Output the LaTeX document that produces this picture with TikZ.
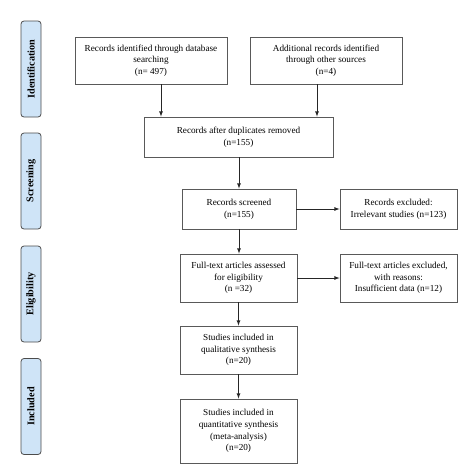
\documentclass[tikz,border=0pt]{standalone}
\usepackage{fontspec}
\setmainfont{Liberation Serif}
\usetikzlibrary{arrows}
\definecolor{phaseblue}{HTML}{CFE4F7}
\tikzset{%
  flow/.style={->, >=latex, draw=black!85, line width=0.8pt},
  stepnode/.style={draw=black!65, line width=0.8pt, align=center, inner sep=2pt,
    font=\fontsize{9.2}{11.6}\selectfont},
  phase/.style={draw=black!70, fill=phaseblue, line width=0.8pt, rounded corners=3pt,
    rotate=90, minimum width=96pt, minimum height=20pt, inner sep=0pt,
    font=\bfseries\fontsize{10.2}{12}\selectfont}
}

\begin{document}
\begin{tikzpicture}[x=1pt, y=-1pt]
  \useasboundingbox (0,0) rectangle (474,474);

% phases
\node [phase] (P1) at (31,69) {Identification};
\node [phase] (P2) at (31,181) {Screening};
\node [phase] (P3) at (31,294) {Eligibility};
\node [phase] (P4) at (31,406.5) {Included};

% boxes
\node [stepnode, minimum width=152pt, minimum height=47pt] (DB) at (151,60.5)
  {Records identified through database\\searching\\(n= 497)};
\node [stepnode, minimum width=152pt, minimum height=47pt] (OS) at (326,60.5)
  {Additional records identified\\through other sources\\(n=4)};
\node [stepnode, minimum width=189pt, minimum height=40pt] (DUP) at (238.5,137)
  {Records after duplicates removed\\(n=155)};
\node [stepnode, minimum width=114pt, minimum height=40pt] (SCR) at (239,209)
  {Records screened\\(n=155)};
\node [stepnode, minimum width=117pt, minimum height=40pt] (EXC) at (398.5,209)
  {Records excluded:\\Irrelevant studies (n=123)};
\node [stepnode, minimum width=117pt, minimum height=48pt] (FT) at (238.5,278)
  {Full-text articles assessed\\for eligibility\\(n =32)};
\node [stepnode, minimum width=117pt, minimum height=48pt] (FTX) at (398.5,278)
  {Full-text articles excluded,\\with reasons:\\Insufficient data (n=12)};
\node [stepnode, minimum width=117pt, minimum height=48pt] (QL) at (238.5,350)
  {Studies included in\\qualitative synthesis\\(n=20)};
\node [stepnode, minimum width=117pt, minimum height=64pt] (QN) at (238.5,431)
  {Studies included in\\quantitative synthesis\\(meta-analysis)\\(n=20)};

% arrows
\coordinate (a) at (161,84);
\coordinate (b) at (317,84);
\draw [flow] (a) -- (a |- DUP.north);
\draw [flow] (b) -- (b |- DUP.north);
\draw [flow] (DUP.south -| SCR) -- (SCR.north);
\draw [flow] (SCR.east) -- (EXC.west);
\draw [flow] (SCR.south) -- (SCR.south |- FT.north);
\draw [flow] (FT.east) -- (FTX.west);
\draw [flow] (FT.south) -- (QL.north);
\draw [flow] (QL.south) -- (QN.north);

\end{tikzpicture}
\end{document}
